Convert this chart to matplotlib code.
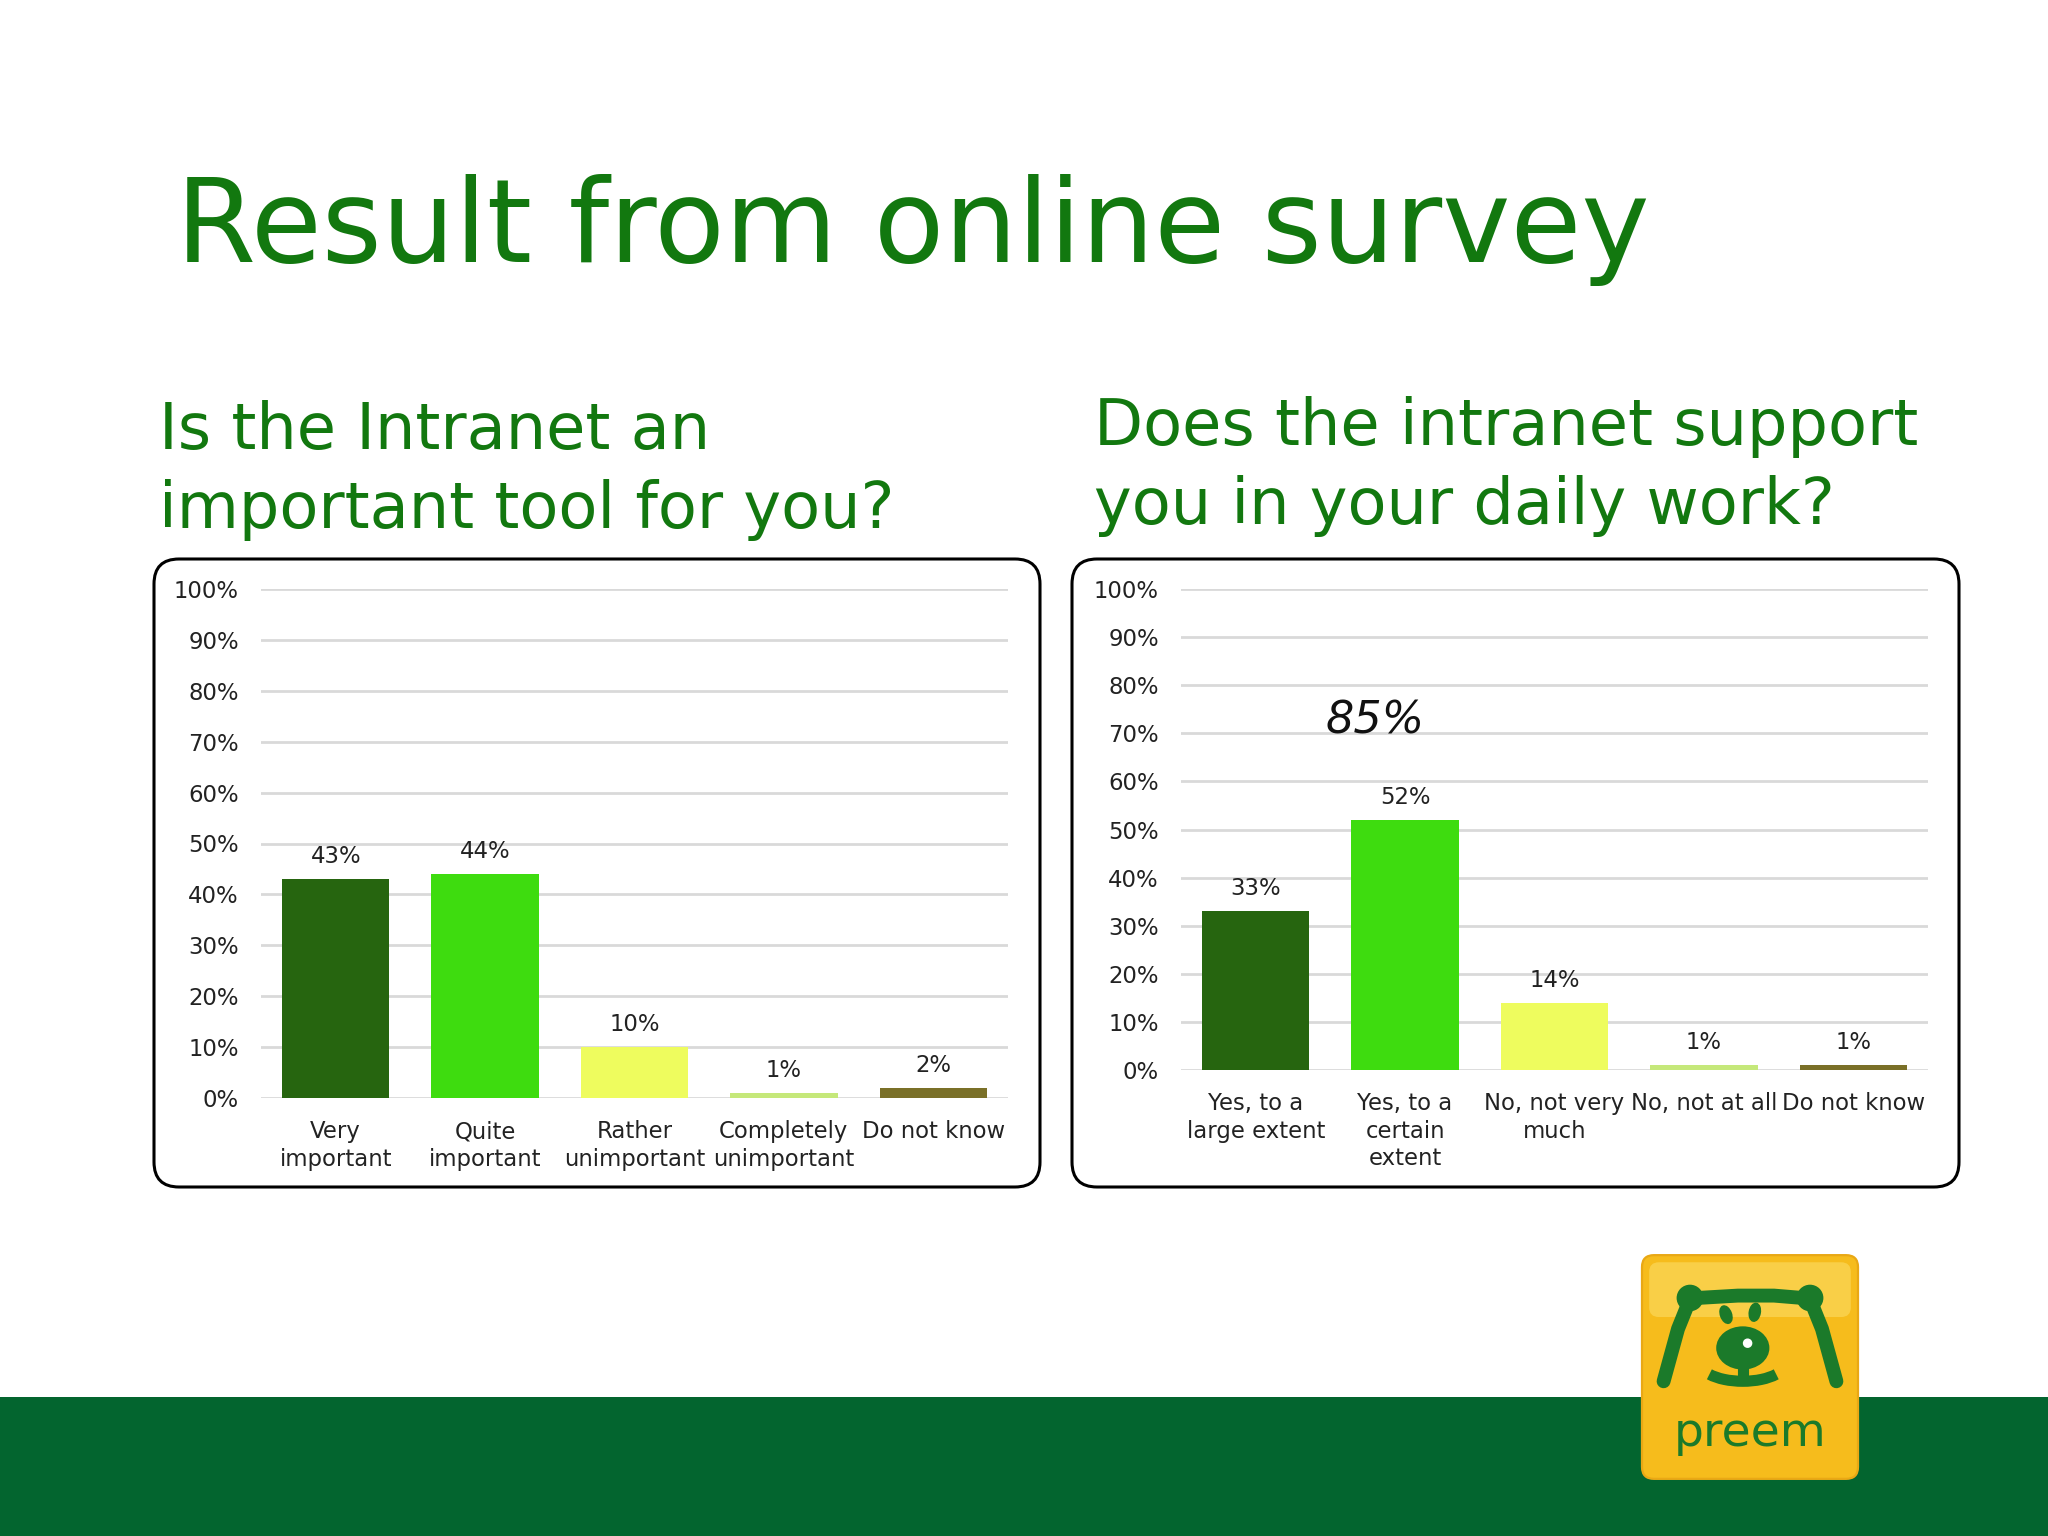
import matplotlib
matplotlib.use('Agg')
import matplotlib.pyplot as plt
from matplotlib.patches import FancyBboxPatch, Rectangle, Ellipse, Arc, Circle
import numpy as np

# -- data ---------------------------------------------------------------------
TITLE = "Result from online survey"
Q1_LINES = ["Is the Intranet an", "important tool for you?"]
Q2_LINES = ["Does the intranet support", "you in your daily work?"]

q1_cats = ["Very\nimportant", "Quite\nimportant", "Rather\nunimportant",
           "Completely\nunimportant", "Do not know"]
q1_vals = [43, 44, 10, 1, 2]

q2_cats = ["Yes, to a\nlarge extent", "Yes, to a\ncertain\nextent",
           "No, not very\nmuch", "No, not at all", "Do not know"]
q2_vals = [33, 52, 14, 1, 1]
q2_note = "85%"

y_ticks = [0, 10, 20, 30, 40, 50, 60, 70, 80, 90, 100]

# -- theme --------------------------------------------------------------------
BAR_COLORS = ['#26650F', '#3EDC0F', '#EEFC5E', '#C5E87A', '#7A7028']
TITLE_GREEN = '#12780F'
BAND_GREEN = '#03652F'
GRID = '#D9D9D9'
W, H = 2048, 1536
DPI = 200

plt.rcParams['font.family'] = ['DejaVu Sans']

fig = plt.figure(figsize=(W / DPI, H / DPI), dpi=DPI)
fig.patch.set_facecolor('white')

# background canvas in pixel coordinates
bg = fig.add_axes([0, 0, 1, 1], zorder=0)
bg.set_xlim(0, W)
bg.set_ylim(H, 0)
bg.set_axis_off()

bg.add_patch(Rectangle((0, 1397), W, H - 1397, color=BAND_GREEN, lw=0))

bg.text(176, 262, TITLE, fontsize=41.5, color=TITLE_GREEN, va='baseline', ha='left')
for i, line in enumerate(Q1_LINES):
    bg.text(159, 449 + 79 * i, line, fontsize=23, color=TITLE_GREEN, va='baseline')
for i, line in enumerate(Q2_LINES):
    bg.text(1094, 445 + 79 * i, line, fontsize=23, color=TITLE_GREEN, va='baseline')

# chart frames
for x0, x1 in [(154, 1040), (1072, 1959)]:
    bg.add_patch(FancyBboxPatch((x0 + 25, 559 + 25), x1 - x0 - 50, 1187 - 559 - 50,
                                boxstyle="round,pad=25", fc='white', ec='black', lw=1.1))


def px_rect(left, right, top, bottom):
    return [left / W, 1 - bottom / H, (right - left) / W, (bottom - top) / H]


def bar_chart(rect, cats, vals):
    ax = fig.add_axes(rect, zorder=2)
    ax.set_facecolor('none')
    x = np.arange(len(cats))
    ax.bar(x, vals, width=0.72, color=BAR_COLORS, zorder=3)
    for xi, v in zip(x, vals):
        ax.annotate(f"{v}%", (xi, v), xytext=(0, 4), textcoords='offset points',
                    ha='center', va='bottom', fontsize=8.2, color='#222222')
    ax.set_xlim(-0.5, len(cats) - 0.5)
    ax.set_ylim(0, 100)
    ax.set_yticks(y_ticks)
    ax.set_yticklabels([f"{t}%" for t in y_ticks])
    ax.yaxis.grid(True, color=GRID, lw=1.0, zorder=0)
    ax.set_axisbelow(True)
    ax.set_xticks(x)
    ax.set_xticklabels(cats, fontsize=8.2, linespacing=1.25)
    ax.tick_params(axis='both', length=0, labelsize=8.2, colors='#222222')
    ax.tick_params(axis='y', pad=8)
    ax.tick_params(axis='x', pad=8)
    for s in ax.spines.values():
        s.set_visible(False)
    return ax


ax1 = bar_chart(px_rect(261, 1008, 589, 1098), q1_cats, q1_vals)
ax2 = bar_chart(px_rect(1181, 1928, 589, 1070), q2_cats, q2_vals)
ax2.text(0.5 + 0.3, 68, q2_note, fontsize=16, fontstyle='italic',
         ha='center', va='bottom', color='#111111')

# -- preem logo (decoration) -------------------------------------------------
lg = fig.add_axes(px_rect(1630, 1870, 1248, 1486), zorder=3)
lg.set_xlim(0, 100)
lg.set_ylim(0, 100)
lg.set_axis_off()
lg.add_patch(FancyBboxPatch((7, 5), 86, 90, boxstyle="round,pad=2,rounding_size=5",
                            fc='#F6BC1C', ec='#E9A815', lw=0.8))
lg.add_patch(FancyBboxPatch((9, 72), 82, 21, boxstyle="round,pad=1,rounding_size=4",
                            fc='#FBD85A', ec='none', alpha=0.7))
G = '#1B7A2A'
lg.plot([14, 20, 24, 28, 45, 60, 72, 76, 80, 86], [44, 66, 76, 79, 80, 80, 79, 76, 66, 44],
        color=G, lw=5, solid_capstyle='round', solid_joinstyle='round')
lg.add_patch(Circle((25, 79), 5, color=G))
lg.add_patch(Circle((75, 79), 5, color=G))
lg.add_patch(Ellipse((40, 72), 4, 7, angle=20, color=G))
lg.add_patch(Ellipse((52, 73), 4, 7, angle=-10, color=G))
lg.add_patch(Ellipse((47, 58), 21, 17, color=G))
lg.add_patch(Circle((49, 60), 1.4, color='white'))
lg.plot([47, 47], [50, 46], color=G, lw=4)
lg.add_patch(Arc((47, 52), 36, 16, theta1=200, theta2=340, color=G, lw=4))
lg.text(50, 22, "preem", fontsize=17, color=G, ha='center', va='center')

fig.savefig('out.png', dpi=DPI, facecolor=fig.get_facecolor())
